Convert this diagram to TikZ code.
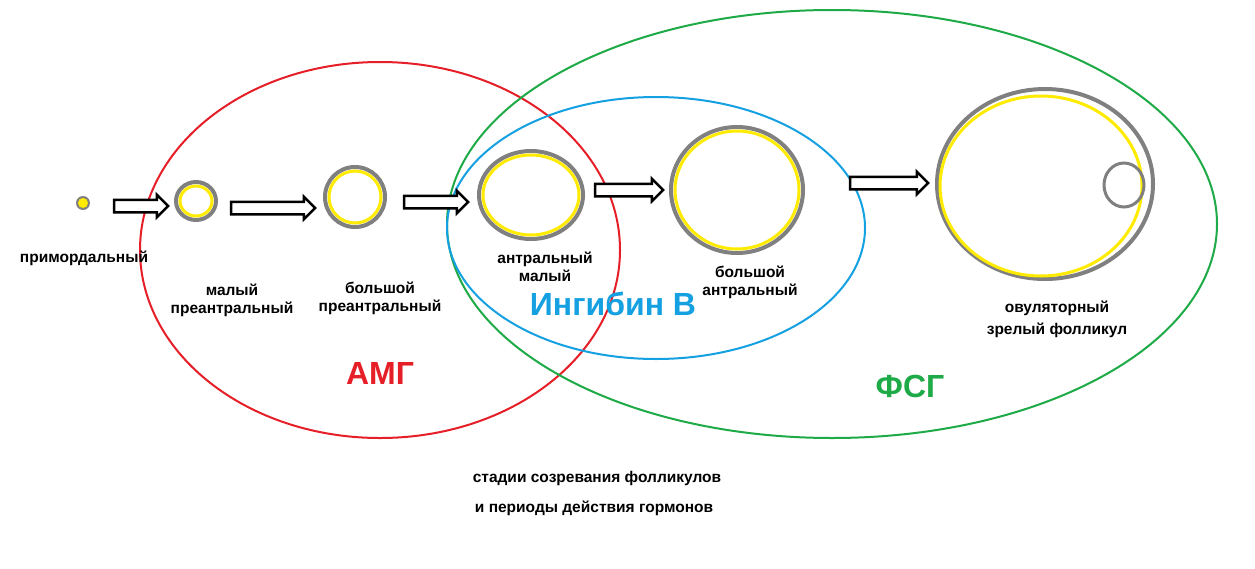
\documentclass[tikz,border=0pt]{standalone}
\usepackage{fontspec}
\setmainfont{Liberation Sans}
\usetikzlibrary{shapes.arrows,shapes.geometric}
\definecolor{amg}{RGB}{230,30,40}
\definecolor{fsg}{RGB}{30,170,70}
\definecolor{ing}{RGB}{20,160,225}
\definecolor{fgray}{RGB}{128,128,128}
\definecolor{fyel}{RGB}{255,235,0}
\tikzset{
 lbl/.style={font=\bfseries\fontsize{15.5}{18}\selectfont, align=center},
 big/.style={font=\bfseries\fontsize{32}{36}\selectfont},
 blk/.style={single arrow, draw=black, line width=2.5pt, fill=white, single arrow head extend=5pt, inner sep=1pt, minimum height=#1},
}
\newcommand{\foll}[3]{%
 \draw[fgray, line width=4pt] #1 ellipse [x radius=#2, y radius=#3];
 \draw[fyel, line width=3pt] #1 ellipse [x radius=#2-4, y radius=#3-4];}
\begin{document}
\begin{tikzpicture}[x=1pt,y=-1pt]
\useasboundingbox (0,0) rectangle (1255,568);
\fill[white] (0,0) rectangle (1255,568);
\draw[amg, line width=2pt] (380,250) ellipse [x radius=240, y radius=188];
\draw[fsg, line width=2pt] (832,224) ellipse [x radius=385, y radius=214];
\draw[ing, line width=2pt] (656,228) ellipse [x radius=209, y radius=131];
\fill[fgray] (83,203) circle (7);
\fill[fyel] (83,203) circle (5);
\foll{(196,201)}{20}{19}
\foll{(355,197)}{30}{30}
\foll{(531,195)}{52}{44}
\foll{(737,190)}{66}{63}
\draw[fgray, line width=4pt] (1045,184) ellipse [x radius=108, y radius=95];
\draw[fyel, line width=3pt] (1041,186) ellipse [x radius=101, y radius=90];
\draw[fgray, line width=3pt] (1124,185) ellipse [x radius=20, y radius=22];
\node[blk=54pt] (a1) at (138,206) {\rule{0pt}{8pt}};
\node[blk=84pt] (a2) at (270,208) {\rule{0pt}{8pt}};
\node[blk=64pt] (a3) at (433,202) {\rule{0pt}{8pt}};
\node[blk=68pt] (a4) at (626,190) {\rule{0pt}{8pt}};
\node[blk=78pt] (a5) at (886,183) {\rule{0pt}{8pt}};
\node[lbl] (t1) at (84,258) {примордальный};
\node[lbl] (t2) at (232,300) {малый\\преантральный};
\node[lbl] (t3) at (380,298) {большой\\преантральный};
\node[lbl] (t4) at (545,267) {антральный\\малый};
\node[lbl] (t5) at (750,282) {большой\\антральный};
\node[lbl, align=center] (t6) at (1057,319) {овуляторный\\[4pt]зрелый фолликул};
\node[big, text=amg] (amgl) at (380,373) {АМГ};
\node[big, text=ing] (ingl) at (613,304) {Ингибин В};
\node[big, text=fsg] (fsgl) at (910,386) {ФСГ};
\node[lbl] (b1) at (597,478) {стадии созревания фолликулов};
\node[lbl] (b2) at (594,508) {и периоды действия гормонов};
\end{tikzpicture}
\end{document}
